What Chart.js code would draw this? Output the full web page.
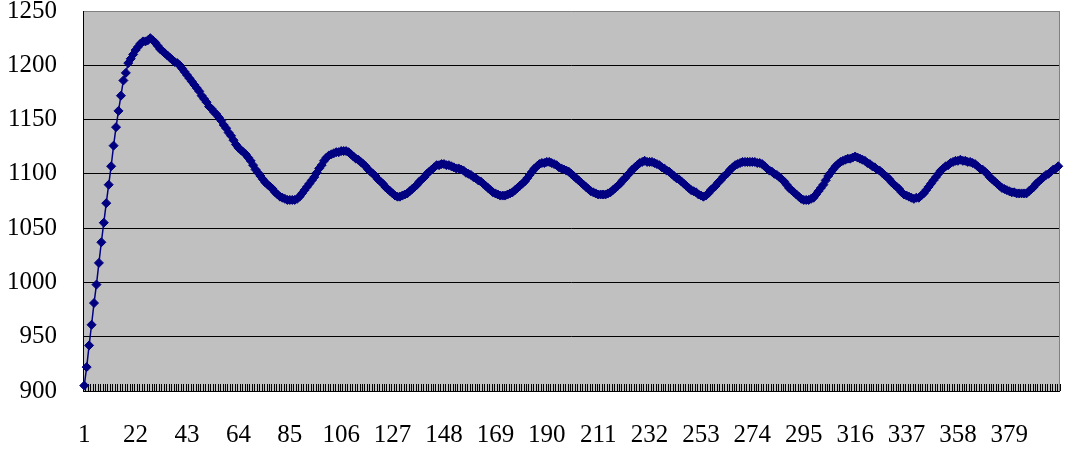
<!DOCTYPE html>
<html>
<head>
<meta charset="utf-8">
<script src="https://cdn.jsdelivr.net/npm/chart.js@4/dist/chart.umd.min.js"></script>
<style>
  html, body { margin: 0; padding: 0; background: #fff; }
  #wrap { width: 1065px; height: 450px; }
</style>
</head>
<body>
<div id="wrap"><canvas id="chart"></canvas></div>
<script>
// values, one per category (1..399)
const seriesValues = [
  905, 922, 942, 961, 981, 998, 1018, 1037, 1055, 1073,
  1090, 1107, 1126, 1143, 1158, 1172, 1186, 1193, 1202, 1206,
  1210, 1214, 1217, 1220, 1222, 1222, 1223, 1225, 1223, 1221,
  1218, 1215, 1213, 1211, 1209, 1207, 1205, 1203, 1202, 1200,
  1197, 1194, 1191, 1188, 1185, 1182, 1179, 1176, 1172, 1169,
  1166, 1162, 1160, 1157, 1155, 1152, 1149, 1145, 1142, 1138,
  1135, 1131, 1127, 1124, 1122, 1120, 1118, 1115, 1112, 1108,
  1104, 1101, 1098, 1095, 1092, 1090, 1088, 1086, 1083, 1081,
  1079, 1078, 1077, 1076, 1076, 1076, 1076, 1077, 1079, 1082,
  1085, 1088, 1091, 1094, 1097, 1101, 1105, 1108, 1112, 1115,
  1117, 1118, 1119, 1120, 1120, 1121, 1121, 1121, 1120, 1118,
  1116, 1114, 1113, 1111, 1109, 1107, 1104, 1102, 1100, 1098,
  1095, 1093, 1091, 1088, 1086, 1084, 1082, 1080, 1079, 1079,
  1080, 1081, 1082, 1084, 1086, 1088, 1090, 1093, 1095, 1097,
  1100, 1102, 1104, 1106, 1108, 1108, 1109, 1109, 1108, 1108,
  1107, 1106, 1105, 1105, 1104, 1103, 1101, 1100, 1099, 1097,
  1096, 1094, 1093, 1091, 1089, 1087, 1085, 1083, 1082, 1081,
  1080, 1080, 1080, 1081, 1082, 1083, 1085, 1087, 1089, 1091,
  1093, 1096, 1099, 1102, 1105, 1107, 1109, 1110, 1110, 1111,
  1111, 1110, 1109, 1108, 1106, 1105, 1104, 1103, 1102, 1100,
  1098, 1096, 1094, 1092, 1090, 1088, 1086, 1084, 1083, 1082,
  1081, 1081, 1081, 1081, 1082, 1083, 1085, 1087, 1089, 1091,
  1094, 1096, 1099, 1101, 1104, 1106, 1108, 1110, 1111, 1112,
  1111, 1111, 1111, 1110, 1109, 1108, 1106, 1105, 1103, 1102,
  1100, 1098, 1096, 1095, 1093, 1091, 1089, 1087, 1085, 1084,
  1083, 1081, 1080, 1079, 1080, 1082, 1085, 1087, 1089, 1092,
  1094, 1097, 1099, 1101, 1104, 1106, 1108, 1109, 1110, 1111,
  1111, 1111, 1111, 1111, 1111, 1110, 1110, 1109, 1107, 1105,
  1103, 1102, 1100, 1099, 1097, 1095, 1093, 1090, 1087, 1085,
  1083, 1081, 1079, 1077, 1076, 1076, 1076, 1077, 1078, 1081,
  1084, 1087, 1090, 1094, 1098, 1101, 1104, 1107, 1109, 1111,
  1112, 1113, 1114, 1114, 1115, 1116, 1115, 1114, 1113, 1112,
  1110, 1109, 1107, 1106, 1104, 1103, 1101, 1099, 1097, 1095,
  1092, 1090, 1088, 1086, 1083, 1081, 1080, 1079, 1078, 1077,
  1078, 1078, 1080, 1082, 1085, 1088, 1091, 1094, 1097, 1100,
  1103, 1105, 1107, 1108, 1110, 1111, 1112, 1112, 1113, 1112,
  1112, 1111, 1111, 1110, 1109, 1107, 1105, 1104, 1102, 1100,
  1097, 1095, 1093, 1091, 1089, 1087, 1086, 1085, 1084, 1083,
  1083, 1082, 1082, 1082, 1082, 1082, 1084, 1086, 1088, 1091,
  1093, 1095, 1097, 1099, 1100, 1102, 1104, 1105, 1107
];

const categories = seriesValues.map((v, i) => String(i + 1));

// labels Excel shows under the axis
const tickLabels = ["1", "22", "43", "64", "85", "106", "127", "148", "169", "190",
  "211", "232", "253", "274", "295", "316", "337", "358", "379"];

const yTicks = [900, 950, 1000, 1050, 1100, 1150, 1200, 1250];

const serif = "'Liberation Serif', 'Times New Roman', serif";

// gray plot area, gray right border and little category ticks along the bottom
const plotFrame = {
  id: "plotFrame",
  beforeDraw(chart) {
    const { ctx, chartArea: a } = chart;
    ctx.save();
    ctx.fillStyle = "#c0c0c0";
    ctx.fillRect(a.left, a.top, a.right - a.left, a.bottom - a.top);
    ctx.restore();
  },
  beforeDatasetsDraw(chart) {
    const { ctx, chartArea: a } = chart;
    const x = chart.scales.x;
    const half = (x.getPixelForValue(1) - x.getPixelForValue(0)) / 2;
    ctx.save();
    ctx.strokeStyle = "#000";
    ctx.lineWidth = 1;
    ctx.beginPath();
    for (let i = 0; i <= categories.length; i++) {
      const px = Math.round(x.getPixelForValue(i) - half) + 0.5;
      ctx.moveTo(px, a.bottom);
      ctx.lineTo(px, a.bottom - 7);
    }
    ctx.stroke();
    ctx.strokeStyle = "#808080";
    ctx.beginPath();
    ctx.moveTo(Math.round(a.right) - 0.5, a.top);
    ctx.lineTo(Math.round(a.right) - 0.5, a.bottom);
    ctx.stroke();
    ctx.restore();
  }
};

new Chart(document.getElementById("chart"), {
  type: "line",
  data: {
    labels: categories,
    datasets: [{
      data: seriesValues,
      borderColor: "#000080",
      backgroundColor: "#000080",
      borderWidth: 1.5,
      pointStyle: "rectRot",
      pointRadius: 4.5,
      pointBorderWidth: 1,
      pointBorderColor: "#000080",
      pointBackgroundColor: "#000080",
      tension: 0
    }]
  },
  options: {
    responsive: true,
    maintainAspectRatio: false,
    animation: false,
    layout: { padding: { top: 11, right: 4, left: 0, bottom: 0 } },
    plugins: {
      legend: { display: false },
      tooltip: { enabled: false }
    },
    scales: {
      x: {
        type: "category",
        offset: true,
        grid: { display: false },
        border: { display: true, color: "#000", width: 1 },
        ticks: {
          autoSkip: false,
          maxRotation: 0,
          minRotation: 0,
          padding: 24,
          color: "#000",
          font: { family: serif, size: 25, lineHeight: 1 },
          callback: function (value) {
            const lab = this.getLabelForValue(value);
            return tickLabels.includes(lab) ? lab : "";
          }
        },
        afterFit(scale) {
          scale.height = 59;
          scale.paddingLeft = 0;
          scale.paddingRight = 0;
        }
      },
      y: {
        min: 900,
        max: 1250,
        afterBuildTicks(scale) {
          scale.ticks = yTicks.map(v => ({ value: v }));
        },
        grid: {
          color: ctx => ctx.tick && ctx.tick.value === 1250 ? "#808080" : "#000",
          lineWidth: 1,
          drawTicks: false
        },
        border: { display: true, color: "#000", width: 1 },
        ticks: {
          padding: 26,
          color: "#000",
          font: { family: serif, size: 25, lineHeight: 1 },
          callback: value => String(value)
        },
        afterFit(scale) {
          scale.width = 83;
          scale.paddingTop = 0;
          scale.paddingBottom = 0;
        }
      }
    }
  },
  plugins: [plotFrame]
});
</script>
</body>
</html>
